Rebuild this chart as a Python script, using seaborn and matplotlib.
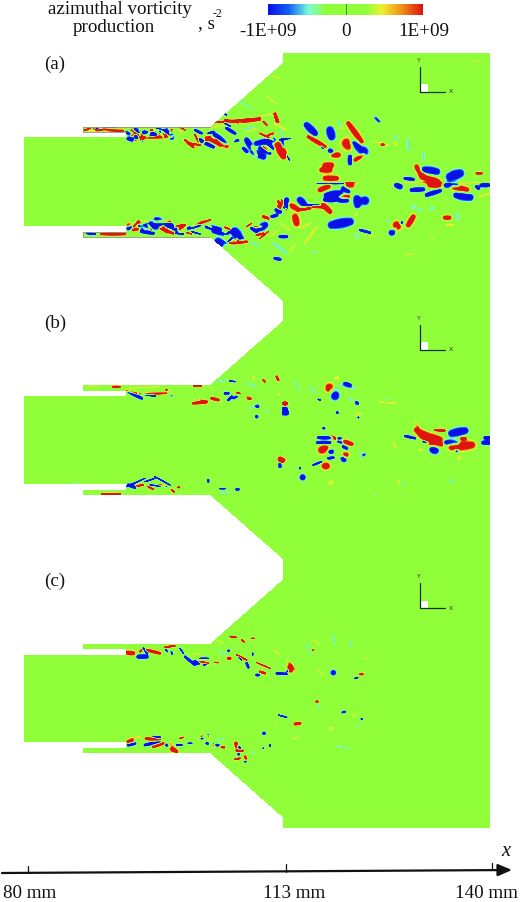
import numpy as np
import matplotlib
matplotlib.use("Agg")
import matplotlib.pyplot as plt
from matplotlib.colors import LinearSegmentedColormap
from matplotlib.patches import Rectangle
from matplotlib.path import Path
import seaborn as sns

sns.set_theme(style="white")
plt.rcParams['font.family'] = ['Liberation Serif', 'DejaVu Serif']

# ---- labels
COLORBAR_TICKS = ["-1E+09", "0", "1E+09"]
PANEL_LABELS = ["(a)", "(b)", "(c)"]
AXIS_LABELS = ["80 mm", "113 mm", "140 mm"]
COLOR_LEVELS = list(np.linspace(-1, 1, 200))

# ---- vorticity-production structures:
# (x0, y0, x1, y1, width), coordinates in 3x crop pixels of each region
A_LEFT_ORIGIN = (60, 110)
A_LEFT_RED = [(118,58,190,62,3),(75,60,90,55,1.5),(100,55,115,62,1.5),(200,78,240,92,4),(240,82,335,80,3),(215,60,235,75,2),
 (375,90,400,112,2.5),(405,75,415,95,2),(440,85,500,108,5),(495,30,535,38,2),(545,35,600,28,3),(645,12,655,35,2.5),
 (600,70,640,90,2),(650,105,670,140,5),(575,110,590,135,3),(205,345,260,335,4),(220,360,240,355,3),(285,335,330,335,3),
 (300,355,340,370,3),(345,350,375,345,2.5),(420,340,450,330,2),(510,400,560,395,3),(590,375,610,370,2.5),(610,320,625,325,3),
 (655,275,665,285,3),(655,290,660,295,3),(495,352,510,358,2),(585,350,605,350,2),(125,372,195,372,3),
 (215,78,225,70,2),(240,60,245,75,2),(265,70,275,60,2),(300,70,320,75,2),(330,70,335,60,2),(225,92,250,88,2),(610,110,625,125,2),
 (625,75,640,70,2),(470,90,480,105,2),(385,100,420,105,2),(220,350,235,335,2),(265,345,275,360,2),(310,350,320,365,2.5),
 (355,360,370,350,2),(395,350,430,335,2),(440,345,455,352,1.5),(530,385,540,400,1.5),(600,385,625,365,1.5),(665,270,680,300,1.5),
 (430,100,450,80,1.5),(360,52,375,60,1.5),(380,368,395,372,1.5),(560,350,575,340,1.5)]
A_LEFT_BLUE = [(200,70,215,85,5),(205,85,245,92,4),(225,60,250,68,4),(255,65,285,72,3),(320,62,335,82,5),(290,55,320,62,1.5),
 (130,52,170,52,1.5),(420,90,460,110,4),(465,75,495,100,5),(500,55,525,70,3),(405,60,425,70,2.5),(560,90,572,110,5),
 (590,100,640,90,5),(580,125,610,140,6),(600,115,630,130,3),(205,355,225,340,4),(250,340,290,350,6),(290,330,325,345,6),
 (245,365,280,370,3),(330,345,350,360,4),(385,355,420,345,3),(440,350,480,358,4),(460,365,490,372,3),(475,395,480,400,7),
 (525,365,535,380,8),(600,355,615,345,6),(635,320,650,316,3),(680,270,680,290,5),(650,300,660,305,4),(645,445,660,448,3),
 (80,370,105,372,2),(105,55,125,55,1.5),(470,20,490,10,1.5),(225,75,235,90,3),(260,80,290,75,2),(300,65,310,80,2),(235,345,245,360,3),
 (345,370,370,372,1.5),(395,365,420,372,1.5),(500,372,520,360,2),(575,355,590,365,3),(495,40,510,48,1.5),(550,115,560,125,3),
 (625,100,640,115,3),(660,90,690,85,1.5),(680,135,688,150,1.5),(445,70,460,65,2),(525,95,535,90,1.5),(505,395,515,385,1.5)]
A_LEFT_YELLOW = [(600,20,650,8,1.5),(355,60,365,70,1.5),(560,65,590,55,1),(110,368,120,372,1.5),(660,340,690,360,1.5),(72,62,110,64,1.5),(200,62,340,58,1),
 (640,40,680,60,2),(450,55,490,45,1.5),(630,380,650,365,2)]
A_LEFT_CYAN = [(520,85,540,95,2),(490,395,520,410,2),(520,370,550,385,2),(640,400,680,430,3),(480,20,500,0,1.5),(130,62,190,56,1.5),(90,375,120,368,1.5),
 (550,60,580,50,2),(570,395,600,410,2),(660,60,670,80,2)]

A_RIGHT_ORIGIN = (280, 110)
A_RIGHT_RED = [(85,80,135,110,4),(205,40,245,95,5),(200,100,205,105,9),(160,135,175,135,5),(225,150,250,135,4),(135,165,155,165,5),
 (125,180,150,180,5),(135,205,170,205,5),(205,225,215,225,5),(120,240,145,230,5),(410,170,425,195,5),(430,200,470,215,7),
 (450,225,485,225,5),(520,232,560,240,6),(590,190,605,190,2.5),(30,285,50,295,5),(55,300,90,295,3),(45,320,50,340,6),
 (100,290,130,290,3),(130,285,150,305,5),(185,260,205,260,4),(385,345,400,320,5),(350,345,352,348,7),(495,323,508,323,4),
 (0,105,12,135,6),(305,105,310,105,2)]
A_RIGHT_BLUE = [(80,45,105,70,6),(150,60,155,80,7),(220,100,232,110,6),(250,125,250,125,8),(210,140,210,160,4),(125,110,130,115,2),
 (112,220,190,220,2),(190,235,205,245,4),(140,255,180,250,6),(135,270,165,270,4),(60,270,70,280,6),(255,272,255,272,7),
 (230,265,232,285,6),(180,270,200,270,5),(80,285,120,285,2),(155,345,210,335,8),(335,368,335,368,5),(365,338,365,338,3),
 (430,180,470,185,7),(510,200,540,190,8),(490,225,530,225,5),(375,205,400,208,3),(350,225,360,230,5),(395,240,430,238,4),
 (440,255,480,242,4),(530,255,570,262,7),(605,225,625,225,4),(590,230,595,235,3),(240,360,270,368,2.5),(0,380,20,380,3),
 (15,280,15,290,3),(5,90,10,110,3),(150,122,155,125,4)]
A_RIGHT_YELLOW = [(285,95,325,105,2),(345,100,348,103,3),(75,400,110,350,2.5),(230,310,225,320,2.5),(600,260,630,250,2),
 (380,435,400,432,1.5),(450,382,460,382,1.5),(270,378,285,378,1.5),(105,218,235,218,1),(330,218,630,218,1),
 (150,40,165,45,2),(180,55,195,55,2),(60,355,90,340,2),(30,420,45,405,2),(500,345,520,345,2)]
A_RIGHT_CYAN = [(385,90,385,120,3),(430,130,430,150,3),(320,335,340,330,2),(530,310,535,330,3),(230,375,232,380,4),
 (400,290,400,290,5),(420,300,420,300,4),(455,295,455,295,5),(290,25,295,35,3),(345,80,350,85,3),(170,35,185,45,2),(340,370,350,350,2),(100,430,110,425,2)]

B_LEFT_ORIGIN = (60, 370)
B_LEFT_RED = [(200,62,230,70,2),(240,72,320,70,2),(320,60,335,72,3),(400,100,440,95,3),(455,85,475,90,3),(530,68,540,70,1.5),
 (400,48,425,48,1.5),(158,50,180,50,2),(650,20,655,30,2.5),(610,30,615,35,2),(565,85,570,85,2.5),(670,100,680,100,2.5),
 (660,265,665,275,3),(230,348,250,345,2),(265,350,280,358,2),(300,345,315,350,2),(335,360,342,365,2),(125,372,180,372,2),(355,352,358,352,2)]
B_LEFT_BLUE = [(205,65,245,85,3),(245,72,285,78,2),(325,65,335,75,3),(495,70,505,70,2.5),(505,90,515,80,2.5),(520,85,530,80,2),
 (510,33,525,35,1.5),(675,115,682,130,3),(590,140,590,140,3),(590,110,595,110,2),(660,280,660,290,3),(200,350,255,325,1.5),
 (255,335,285,325,1.5),(285,320,330,345,1.5),(270,345,320,350,1.5),(205,345,225,352,3),(480,356,495,356,1.5),(530,358,535,358,2.5),(445,335,445,330,2)]
B_LEFT_YELLOW = [(580,20,582,25,2.5),(655,75,660,70,2),(85,50,120,50,1),(560,80,575,90,2),(200,55,300,50,1),(420,85,440,105,2)]
B_LEFT_CYAN = [(570,115,600,100,2),(620,120,625,125,2),(40,342,60,342,1),(668,115,668,135,1.5),(470,35,500,30,2),(560,40,590,50,2),(480,370,510,365,2)]

B_RIGHT_ORIGIN = (280, 370)
B_RIGHT_RED = [(148,52,148,55,7),(410,180,440,205,6),(430,195,480,208,6),(450,218,485,222,6),(515,230,575,225,8),(545,205,555,205,3),
 (465,180,495,182,2),(125,240,135,235,7),(155,200,165,205,3),(195,215,215,222,4),(195,255,198,255,5),(135,288,140,288,6),
 (15,100,15,105,3),(0,270,10,270,4)]
B_RIGHT_BLUE = [(165,75,165,78,7),(195,40,210,45,3),(15,115,15,130,4),(230,98,232,100,3),(172,128,172,128,2.5),(235,142,235,142,2),
 (115,203,155,203,3),(112,218,150,218,3),(175,205,182,205,2),(175,215,185,218,2),(190,230,200,235,3),(150,245,155,245,4),
 (145,265,160,263,2.5),(190,265,192,268,5),(100,285,125,275,2),(68,322,68,322,5),(60,295,60,295,2),(130,175,133,175,2),
 (375,198,405,205,2.5),(430,215,445,218,2),(460,238,465,240,7),(495,218,530,218,5),(515,190,555,182,7),(530,243,530,243,3),
 (615,203,630,203,3),(610,218,630,218,4),(115,88,120,90,1)]
B_RIGHT_YELLOW = [(150,338,155,338,4),(340,215,345,235,2),(470,180,490,180,2.5),(355,335,358,335,3),(300,95,345,100,2.5),
 (230,135,240,132,3),(170,25,172,25,4),(420,240,425,240,3),(535,265,540,262,3),(405,150,415,175,1.5)]
B_RIGHT_CYAN = [(45,35,60,60,2),(180,45,225,55,3),(320,90,325,90,3),(370,340,372,340,3),(285,372,290,372,1.5),(235,250,255,255,2),
 (210,85,215,90,3),(510,330,520,335,2),(90,50,105,70,2),(150,60,170,55,2),(255,250,245,265,2)]

C_ORIGIN = (60, 630)
C_RED = [(200,68,220,70,4),(240,65,245,60,2),(260,60,300,70,3),(315,52,345,47,2),(325,60,330,70,2),(420,95,445,100,2),(465,97,475,98,1.5),
 (510,20,530,22,1.5),(545,30,552,35,2),(575,25,582,25,1.5),(505,85,510,85,3),(530,75,560,90,2),(590,98,630,115,1.5),(600,125,615,130,2.5),
 (690,110,692,120,5),(760,60,760,60,2),(900,133,908,133,2),(770,215,772,215,2.5),(705,282,720,280,3),(205,335,240,325,4),(250,325,300,330,3),
 (280,350,310,340,3),(330,345,338,360,4),(345,360,350,365,3),(425,320,445,318,2.5),(450,340,460,345,2.5),(480,350,492,352,2.5),
 (528,340,530,350,3.5),(530,362,548,362,2.5),(525,388,540,385,2),(555,380,558,385,2.5),(360,325,370,322,1)]
C_BLUE = [(235,80,260,80,4),(250,55,262,70,2),(320,60,335,70,3),(375,80,405,105,2.5),(405,95,415,100,3),(420,85,445,85,1),(430,105,440,103,1.5),
 (360,55,370,70,1),(505,62,507,62,2),(578,70,578,75,1.5),(560,100,565,112,2.5),(535,80,545,90,1.5),(590,135,596,135,2.5),(650,130,680,132,2.5),
 (680,125,685,120,1.5),(820,128,820,128,4.5),(885,145,893,143,1.5),(205,345,225,340,3),(225,330,250,325,3),(255,345,300,335,3),(280,320,300,322,2),
 (320,345,330,348,3),(350,345,365,345,2),(425,325,445,315,2.5),(440,340,460,342,2.5),(470,345,480,348,2.5),(535,350,540,355,2.5),(535,373,537,373,2),
 (612,310,612,310,3),(655,255,680,262,1.5),(848,247,855,245,2),(905,267,905,267,2),(555,395,557,395,1.5),(610,355,610,355,1.5),(630,345,630,348,1.5),(385,340,395,340,1)]
C_YELLOW = [(760,30,780,45,1.5),(810,295,815,295,3),(700,325,720,322,1),(650,280,650,285,1.5),(880,255,885,258,2),(915,85,918,85,2),
 (680,90,710,125,1.5),(770,120,790,135,1.5),(640,60,660,75,1.5),(470,30,490,40,1.5),(400,70,420,75,1.5)]
C_CYAN = [(820,15,825,40,2),(870,35,875,50,2),(830,350,870,355,1.5),(775,225,778,232,2),(890,290,900,280,1),(480,65,500,75,2),(740,40,750,70,1.5),(580,365,585,370,2),(470,325,490,330,1.5)]

TOP_ORIGIN = (0, 0)
TOP_RED = [(640,368,780,355,2),(825,345,830,365,2),(790,365,800,375,2)]
TOP_BLUE = [(670,340,680,345,1)]
TOP_YELLOW = [(800,290,830,310,1.5),(1420,182,1445,182,1),(820,230,840,235,1.5)]
TOP_CYAN = [(720,300,760,330,1.5),(1120,350,1140,365,2)]

REGIONS = [
    (A_LEFT_ORIGIN, A_LEFT_RED, A_LEFT_BLUE, A_LEFT_YELLOW, A_LEFT_CYAN),
    (A_RIGHT_ORIGIN, A_RIGHT_RED, A_RIGHT_BLUE, A_RIGHT_YELLOW, A_RIGHT_CYAN),
    (B_LEFT_ORIGIN, B_LEFT_RED, B_LEFT_BLUE, B_LEFT_YELLOW, B_LEFT_CYAN),
    (B_RIGHT_ORIGIN, B_RIGHT_RED, B_RIGHT_BLUE, B_RIGHT_YELLOW, B_RIGHT_CYAN),
    (C_ORIGIN, C_RED, C_BLUE, C_YELLOW, C_CYAN),
    (TOP_ORIGIN, TOP_RED, TOP_BLUE, TOP_YELLOW, TOP_CYAN),
]

W, H = 520, 902
GREEN = "#90FF3A"
colors = ["#0A10E6", "#1060F8", "#7CFAD8", GREEN, GREEN, "#EEF030", "#F08A18", "#DE140E"]
nodes = [0, 0.13, 0.26, 0.37, 0.63, 0.74, 0.87, 1]
cmap = LinearSegmentedColormap.from_list("vort", list(zip(nodes, colors)))

# ---- field on the pixel grid: each structure read above adds its signed value
field = np.zeros((H, W))
px, py = np.meshgrid(np.arange(W) + 0.5, np.arange(H) + 0.5)

def deposit(x0, y0, x1, y1, w, amp, sfac):
    s0 = max(1.0, sfac * w)
    m = int(3.2 * s0) + 2
    i0, i1 = max(0, int(min(x0, x1)) - m), min(W, int(max(x0, x1)) + m + 1)
    j0, j1 = max(0, int(min(y0, y1)) - m), min(H, int(max(y0, y1)) + m + 1)
    X, Y = px[j0:j1, i0:i1], py[j0:j1, i0:i1]
    dx, dy = x1 - x0, y1 - y0
    L2 = dx * dx + dy * dy
    t = np.clip(((X - x0) * dx + (Y - y0) * dy) / L2, 0, 1) if L2 > 0 else np.zeros_like(X)
    d2 = (X - x0 - t * dx) ** 2 + (Y - y0 - t * dy) ** 2
    L = np.sqrt(L2)
    taper = L / (L + 12.0) * 0.35
    s = s0 * (1 - taper * (2 * t - 1) ** 2)
    field[j0:j1, i0:i1] += amp * np.exp(-d2 / (s * s))

for origin, red, blue, yellow, cyan in REGIONS:
    for group, amp, sfac in ((yellow, 0.52, 0.75), (cyan, -0.52, 0.75), (red, 1.6, 0.65), (blue, -1.6, 0.65)):
        for cx0, cy0, cx1, cy1, w in group:
            deposit(origin[0] + cx0 / 3, origin[1] + cy0 / 3,
                    origin[0] + cx1 / 3, origin[1] + cy1 / 3, w, amp, sfac)

# ---- flow domain outline (pixels of the picture)
outline = [(283,53),(490,53),(490,828),(283,828),(283,817.5),(210,753),(83,753),(83,748),(126,748),(126,742),(24,742),
 (24,655),(126,655),(126,649),(83,649),(83,644),(210,644),(283,579.5),(283,559),(210,495),(83,495),(83,490),(126,490),
 (126,484),(24,484),(24,396),(126,396),(126,391),(83,391),(83,385),(210,385),(283,321),(283,301),(210,237),(83,237),
 (83,232),(126,232),(126,226),(24,226),(24,137),(126,137),(126,132),(83,132),(83,127),(210,127),(283,63)]
inside = Path(outline).contains_points(np.c_[px.ravel(), py.ravel()]).reshape(H, W)

fig = plt.figure(figsize=(W / 100, H / 100), dpi=100, facecolor="white")
ax = fig.add_axes([0, 0, 1, 1])
sns.heatmap(field, mask=~inside, cmap=cmap, vmin=-1, vmax=1, cbar=False,
            xticklabels=False, yticklabels=False, ax=ax, rasterized=True)
ax.set_xlim(0, W)
ax.set_ylim(H, 0)
ax.axis("off")

# ---- wall lines of the annular strips
for x0, y0, x1, y1 in [(83,127,210,127),(83,132,126,132),(83,232,126,232),(83,237,210,237),(83,127,83,132),(83,232,83,237)]:
    ax.plot([x0, x1], [y0, y1], color="#8a9a70", lw=0.6, zorder=6)

# ---- coordinate triads
for oy in (91.5, 349.5, 608):
    ax.add_patch(Rectangle((420, oy - 7.5), 7.5, 7.5, fc="white", ec="none", zorder=7))
    ax.plot([420, 420], [oy, oy - 25], color="#10301a", lw=0.9, zorder=8)
    ax.plot([420, 445], [oy, oy], color="#10301a", lw=0.9, zorder=8)
    ax.text(419, oy - 31, "Y", fontsize=4.5, family="DejaVu Sans", ha="center", va="center", color="#333333", zorder=8)
    ax.text(451, oy, "X", fontsize=4.5, family="DejaVu Sans", ha="center", va="center", color="#333333", zorder=8)

# ---- texts
FS = 13.7
for lab, (tx, ty) in zip(PANEL_LABELS, [(55, 64), (55, 323), (55, 581)]):
    ax.text(tx, ty, lab, fontsize=FS, ha="center", va="center", color="#111111")
ax.text(120, 9, "azimuthal vorticity", fontsize=FS, ha="center", va="center", color="#111111")
ax.text(114, 28, "production", fontsize=FS, ha="center", va="center", color="#111111")
ax.text(198, 24, ", s", fontsize=FS, ha="left", va="center", color="#111111")
ax.text(213, 14, "-2", fontsize=8.5, ha="left", va="center", color="#111111")
for lab, tx in zip(COLORBAR_TICKS, [268, 345.5, 424]):
    ax.text(tx, 31, lab, fontsize=FS, ha="center", va="center", color="#111111")

# ---- colour bar
cax = fig.add_axes([268 / W, 1 - 14.5 / H, (423 - 268) / W, 10.5 / H])
sns.heatmap(np.array([COLOR_LEVELS]), cmap=cmap, vmin=-1, vmax=1, cbar=False,
            xticklabels=False, yticklabels=False, ax=cax)
cax.axvline(100, color="#3a7a30", lw=0.6)

# ---- bottom x axis
ax.annotate("", xy=(512, 870), xytext=(2, 873),
            arrowprops=dict(arrowstyle="-|>,head_width=0.3,head_length=0.7", color="#111111", lw=1.6,
                            shrinkA=0, shrinkB=0))
for tx, y0, y1 in [(28, 866, 873), (286, 864, 871.5), (492, 863, 870)]:
    ax.plot([tx, tx], [y0, y1], color="#111111", lw=0.9)
for lab, tx in zip(AXIS_LABELS, [30, 294, 486]):
    ax.text(tx, 893, lab, fontsize=FS, ha="center", va="center", color="#111111")
ax.text(506, 851, "x", fontsize=FS + 1, style="italic", ha="center", va="center", color="#111111")

fig.savefig("out.png", dpi=100)
